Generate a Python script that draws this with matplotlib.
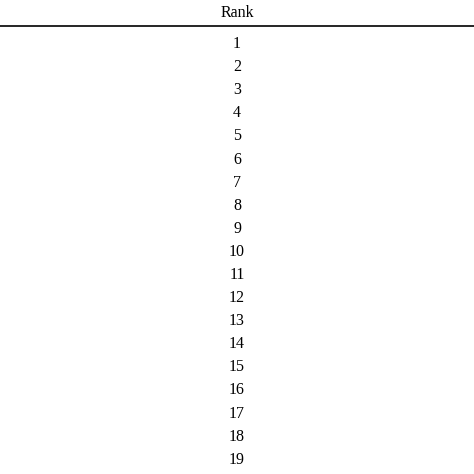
import matplotlib
matplotlib.use("Agg")
import matplotlib.pyplot as plt

header = "Rank"
ranks = list(range(1, 20))

fig = plt.figure(figsize=(4.74, 4.74), dpi=100)
fig.patch.set_facecolor("white")
H = 474.0

def fy(py):
    return 1 - py / H

fig.text(0.5, fy(13), header, ha="center", va="center",
         family="Liberation Serif", fontsize=11.5)
fig.add_artist(plt.Line2D([0, 1], [fy(26), fy(26)], color="black", lw=1.2))

for i, r in enumerate(ranks):
    fig.text(0.5, fy(44 + i * 23.1), str(r), ha="center", va="center",
             family="Liberation Serif", fontsize=11.5)

fig.savefig("out.png", dpi=100)
